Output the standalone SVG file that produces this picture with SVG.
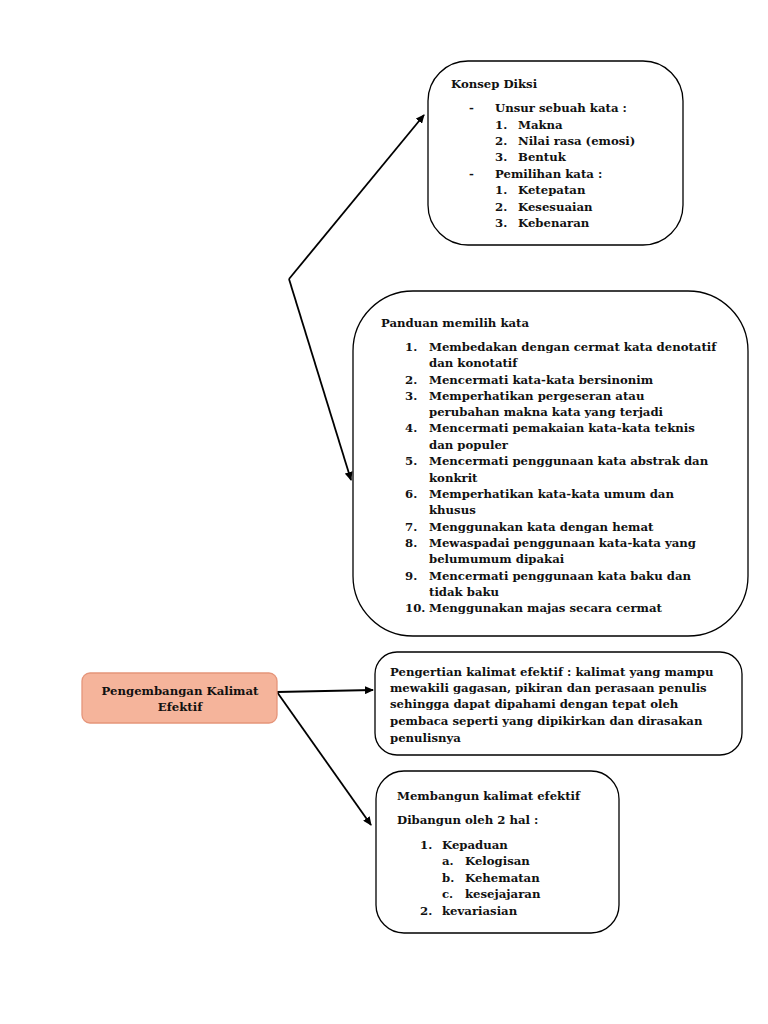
<svg xmlns="http://www.w3.org/2000/svg" width="768" height="1024" viewBox="0 0 768 1024">
<style>
.box{fill:#fff;stroke:#000;stroke-width:1.3}
.t{font-family:"DejaVu Serif","Liberation Serif",serif;font-weight:bold;font-size:11.7px;fill:#111}
.c{stroke:#000;stroke-width:1.8;fill:none}
</style>
<defs>
<marker id="ah" markerWidth="10" markerHeight="8" refX="8" refY="4" orient="auto" markerUnits="userSpaceOnUse">
<path d="M0,0 L9,4 L0,8 z" fill="#000"/>
</marker>
</defs>
<rect width="768" height="1024" fill="#fff"/>
<g id="connectors">
<line class="c" x1="289" y1="279" x2="424" y2="115" marker-end="url(#ah)"/>
<line class="c" x1="289" y1="279" x2="351" y2="480" marker-end="url(#ah)"/>
<line class="c" x1="277" y1="692" x2="373" y2="690" marker-end="url(#ah)"/>
<line class="c" x1="277" y1="692" x2="371" y2="825" marker-end="url(#ah)"/>
</g>
<g id="konsep-diksi">
<rect class="box" x="428" y="61" width="255" height="184" rx="40"/>
<text class="t" x="451" y="88">Konsep Diksi</text>
<text class="t" x="469" y="112">-</text><text class="t" x="495" y="112">Unsur sebuah kata :</text>
<text class="t" x="495" y="129">1.</text><text class="t" x="518" y="129">Makna</text>
<text class="t" x="495" y="145">2.</text><text class="t" x="518" y="145">Nilai rasa (emosi)</text>
<text class="t" x="495" y="161">3.</text><text class="t" x="518" y="161">Bentuk</text>
<text class="t" x="469" y="178">-</text><text class="t" x="495" y="178">Pemilihan kata :</text>
<text class="t" x="495" y="194">1.</text><text class="t" x="518" y="194">Ketepatan</text>
<text class="t" x="495" y="211">2.</text><text class="t" x="518" y="211">Kesesuaian</text>
<text class="t" x="495" y="227">3.</text><text class="t" x="518" y="227">Kebenaran</text>
</g>
<g id="panduan">
<rect class="box" x="353" y="291" width="395" height="345" rx="60"/>
<text class="t" x="381" y="327">Panduan memilih kata</text>
<text class="t" x="405" y="351">1.</text><text class="t" x="429" y="351">Membedakan dengan cermat kata denotatif</text>
<text class="t" x="429" y="367">dan konotatif</text>
<text class="t" x="405" y="384">2.</text><text class="t" x="429" y="384">Mencermati kata-kata bersinonim</text>
<text class="t" x="405" y="400">3.</text><text class="t" x="429" y="400">Memperhatikan pergeseran atau</text>
<text class="t" x="429" y="416">perubahan makna kata yang terjadi</text>
<text class="t" x="405" y="432">4.</text><text class="t" x="429" y="432">Mencermati pemakaian kata-kata teknis</text>
<text class="t" x="429" y="449">dan populer</text>
<text class="t" x="405" y="465">5.</text><text class="t" x="429" y="465">Mencermati penggunaan kata abstrak dan</text>
<text class="t" x="429" y="482">konkrit</text>
<text class="t" x="405" y="498">6.</text><text class="t" x="429" y="498">Memperhatikan kata-kata umum dan</text>
<text class="t" x="429" y="514">khusus</text>
<text class="t" x="405" y="531">7.</text><text class="t" x="429" y="531">Menggunakan kata dengan hemat</text>
<text class="t" x="405" y="547">8.</text><text class="t" x="429" y="547">Mewaspadai penggunaan kata-kata yang</text>
<text class="t" x="429" y="563">belumumum dipakai</text>
<text class="t" x="405" y="580">9.</text><text class="t" x="429" y="580">Mencermati penggunaan kata baku dan</text>
<text class="t" x="429" y="596">tidak baku</text>
<text class="t" x="405" y="612">10.</text><text class="t" x="429" y="612">Menggunakan majas secara cermat</text>
</g>
<g id="pengembangan">
<rect x="82" y="673" width="195" height="50" rx="8" fill="#f5b49b" stroke="#e5957a" stroke-width="1.3"/>
<text class="t" x="180" y="695" text-anchor="middle">Pengembangan Kalimat</text>
<text class="t" x="180" y="711" text-anchor="middle">Efektif</text>
</g>
<g id="pengertian">
<rect class="box" x="375" y="652" width="367" height="103" rx="22"/>
<text class="t" x="390" y="676">Pengertian kalimat efektif : kalimat yang mampu</text>
<text class="t" x="390" y="692">mewakili gagasan, pikiran dan perasaan penulis</text>
<text class="t" x="390" y="708">sehingga dapat dipahami dengan tepat oleh</text>
<text class="t" x="390" y="725">pembaca seperti yang dipikirkan dan dirasakan</text>
<text class="t" x="390" y="742">penulisnya</text>
</g>
<g id="membangun">
<rect class="box" x="376" y="771" width="243" height="162" rx="28"/>
<text class="t" x="397" y="800">Membangun kalimat efektif</text>
<text class="t" x="397" y="824">Dibangun oleh 2 hal :</text>
<text class="t" x="420" y="849">1.</text><text class="t" x="442" y="849">Kepaduan</text>
<text class="t" x="442" y="865">a.</text><text class="t" x="465" y="865">Kelogisan</text>
<text class="t" x="442" y="882">b.</text><text class="t" x="465" y="882">Kehematan</text>
<text class="t" x="442" y="898">c.</text><text class="t" x="465" y="898">kesejajaran</text>
<text class="t" x="420" y="915">2.</text><text class="t" x="442" y="915">kevariasian</text>
</g>
</svg>
